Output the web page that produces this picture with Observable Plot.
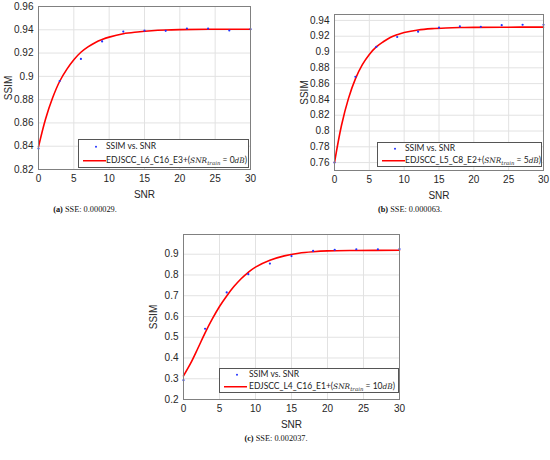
<!DOCTYPE html>
<html>
<head>
<meta charset="utf-8">
<script src="https://cdn.jsdelivr.net/npm/d3@7"></script>
<script src="https://cdn.jsdelivr.net/npm/@observablehq/plot@0.6"></script>
<style>
  body { margin: 0; background: #fff; }
  #root { position: relative; width: 550px; height: 460px; overflow: hidden; background: #fff; }
  .panel { position: absolute; }
  .leg { position: absolute; border: 1px solid #555; background: #fff; box-sizing: border-box;
         font-family: Lato, "Open Sans", sans-serif; font-size: 8.5px; color: #222; }
  .row { position: absolute; left: 0; white-space: nowrap; }
  .row svg { position: absolute; left: 2px; top: 0; }
  .row span.t { position: absolute; }
  .m { font-family: "DejaVu Serif", "Liberation Serif", serif; font-style: italic; font-size: 7.4px; }
  .m sub { font-size: 5.4px; vertical-align: -2px; }
  .cap { position: absolute; font-family: "Liberation Serif", "DejaVu Serif", serif; font-size: 8.3px; color: #111; white-space: nowrap; transform: translateX(-50%); }
</style>
</head>
<body>
<div id="root"></div>
<script>
// ---- data ----
const snr = [0, 3, 6, 9, 12, 15, 18, 21, 24, 27, 30];
const ssimA = [0.838, 0.896, 0.915, 0.930, 0.9385, 0.9393, 0.9391, 0.9411, 0.941, 0.9394, 0.9405];
const ssimB = [0.760, 0.8687, 0.9064, 0.919, 0.9257, 0.931, 0.9325, 0.932, 0.934, 0.9345, 0.9345];
const ssimC = [0.293, 0.541, 0.716, 0.804, 0.855, 0.891, 0.916, 0.921, 0.924, 0.924, 0.925];

const fitX = [0, 1, 2, 3, 4, 5, 6, 7, 8, 9, 10, 12, 14, 16, 18, 20, 24, 30];
const fitA = [0.8395, 0.8634, 0.8816, 0.8958, 0.906, 0.9143, 0.9207, 0.9253, 0.9289, 0.9316, 0.9337, 0.9366, 0.9381, 0.9392, 0.9398, 0.9401, 0.9404, 0.9405];
const fitB = [0.760, 0.807, 0.841, 0.866, 0.884, 0.897, 0.9065, 0.913, 0.9184, 0.9219, 0.9246, 0.9279, 0.9296, 0.9305, 0.931, 0.9312, 0.9314, 0.9315];
const fitC = [0.314, 0.375, 0.447, 0.521, 0.588, 0.648, 0.699, 0.744, 0.782, 0.813, 0.838, 0.871, 0.892, 0.905, 0.912, 0.916, 0.918, 0.919];

const xTicks = [0, 5, 10, 15, 20, 25, 30];
const xTickLabels = ["0", "5", "10", "15", "20", "25", "30"];
const yTicksA = [0.82, 0.84, 0.86, 0.88, 0.9, 0.92, 0.94, 0.96];
const yTickLabelsA = ["0.82", "0.84", "0.86", "0.88", "0.9", "0.92", "0.94", "0.96"];
const yTicksB = [0.76, 0.78, 0.8, 0.82, 0.84, 0.86, 0.88, 0.9, 0.92, 0.94];
const yTickLabelsB = ["0.76", "0.78", "0.8", "0.82", "0.84", "0.86", "0.88", "0.9", "0.92", "0.94"];
const yTicksC = [0.2, 0.3, 0.4, 0.5, 0.6, 0.7, 0.8, 0.9];
const yTickLabelsC = ["0.2", "0.3", "0.4", "0.5", "0.6", "0.7", "0.8", "0.9"];

const pointLabel = "SSIM vs. SNR";
const fitNames = ["EDJSCC_L6_C16_E3+", "EDJSCC_L5_C8_E2+", "EDJSCC_L4_C16_E1+"];
const trainSNR = ["0", "5", "10"];
const capLetters = ["(a)", "(b)", "(c)"];
const capTexts = ["SSE: 0.000029.", "SSE: 0.000063.", "SSE: 0.002037."];

// ---- layout ----
const panels = [
  { ys: ssimA, fit: fitA, yDomain: [0.82, 0.96], yTicks: yTicksA, yLabels: yTickLabelsA,
    left: 0, top: 0, width: 260, height: 200, mL: 38, mR: 10, mT: 6, mB: 31,
    leg: { left: 78, top: 139, width: 171, height: 29, tx: 27 }, cap: { x: 85, y: 205 } },
  { ys: ssimB, fit: fitB, yDomain: [0.75, 0.9475], yTicks: yTicksB, yLabels: yTickLabelsB,
    left: 290, top: 0, width: 260, height: 200, mL: 44, mR: 7, mT: 14, mB: 30,
    leg: { left: 377, top: 142, width: 165, height: 25, tx: 27 }, cap: { x: 410, y: 205 } },
  { ys: ssimC, fit: fitC, yDomain: [0.2, 0.995], yTicks: yTicksC, yLabels: yTickLabelsC,
    left: 140, top: 225, width: 270, height: 204, mL: 43, mR: 11, mT: 9, mB: 30,
    leg: { left: 219, top: 368, width: 180, height: 25, tx: 29 }, cap: { x: 276, y: 434 } }
];

const root = document.getElementById("root");

panels.forEach((p, k) => {
  const pts = snr.map((x, i) => ({ x, y: p.ys[i] }));
  const fitRows = fitX.map((x, i) => ({ x, y: p.fit[i] }));
  const chart = Plot.plot({
    width: p.width, height: p.height,
    marginLeft: p.mL, marginRight: p.mR, marginTop: p.mT, marginBottom: p.mB,
    style: { fontFamily: "'Liberation Sans', Arial, sans-serif", fontSize: "10px", color: "#262626", background: "transparent" },
    x: { domain: [0, 30] },
    y: { domain: p.yDomain },
    marks: [
      Plot.gridX(xTicks, { stroke: "#e2e2e2", strokeOpacity: 1 }),
      Plot.gridY(p.yTicks, { stroke: "#e2e2e2", strokeOpacity: 1 }),
      Plot.axisX(xTicks, { tickSize: 0, tickPadding: 5, tickFormat: d => xTickLabels[xTicks.indexOf(d)],
        label: "SNR", labelAnchor: "center", labelArrow: "none", labelOffset: 28 }),
      Plot.axisY(p.yTicks, { tickSize: 0, tickPadding: 5, tickFormat: d => p.yLabels[p.yTicks.indexOf(d)],
        label: "SSIM", labelAnchor: "center", labelArrow: "none", labelOffset: 34 }),
      Plot.line(fitRows, { x: "x", y: "y", stroke: "#ff0000", strokeWidth: 1.6, curve: "catmull-rom" }),
      Plot.dot(pts, { x: "x", y: "y", r: 1.1, fill: "#2233ff", stroke: "none" }),
      Plot.frame({ stroke: "#808080" })
    ]
  });
  chart.classList.add("panel");
  chart.style.left = p.left + "px";
  chart.style.top = p.top + "px";
  root.appendChild(chart);

  // legend
  const lg = document.createElement("div");
  lg.className = "leg";
  Object.assign(lg.style, { left: p.leg.left + "px", top: p.leg.top + "px", width: p.leg.width + "px", height: p.leg.height + "px" });
  const rowH = (p.leg.height - 2) / 2;
  const rowStyle = (i) => `top:${i * rowH}px;height:${rowH}px;line-height:${rowH}px`;
  lg.innerHTML =
    `<div class="row" style="${rowStyle(0)}">` +
      `<svg width="24" height="${rowH}"><circle cx="15" cy="${rowH / 2}" r="1" fill="#2233ff"/></svg>` +
      `<span class="t" style="left:${p.leg.tx}px">${pointLabel}</span></div>` +
    `<div class="row" style="${rowStyle(1)}">` +
      `<svg width="26" height="${rowH}"><line x1="2" x2="25" y1="${rowH / 2}" y2="${rowH / 2}" stroke="#ff0000" stroke-width="1.5"/></svg>` +
      `<span class="t" style="left:${p.leg.tx}px">${fitNames[k]}(<span class="m">SNR<sub>train</sub></span> = ${trainSNR[k]}<span class="m">dB</span>)</span></div>`;
  root.appendChild(lg);

  // caption
  const cap = document.createElement("div");
  cap.className = "cap";
  cap.style.left = p.cap.x + "px";
  cap.style.top = p.cap.y + "px";
  cap.innerHTML = `<b>${capLetters[k]}</b> ${capTexts[k]}`;
  root.appendChild(cap);
});
</script>
</body>
</html>
